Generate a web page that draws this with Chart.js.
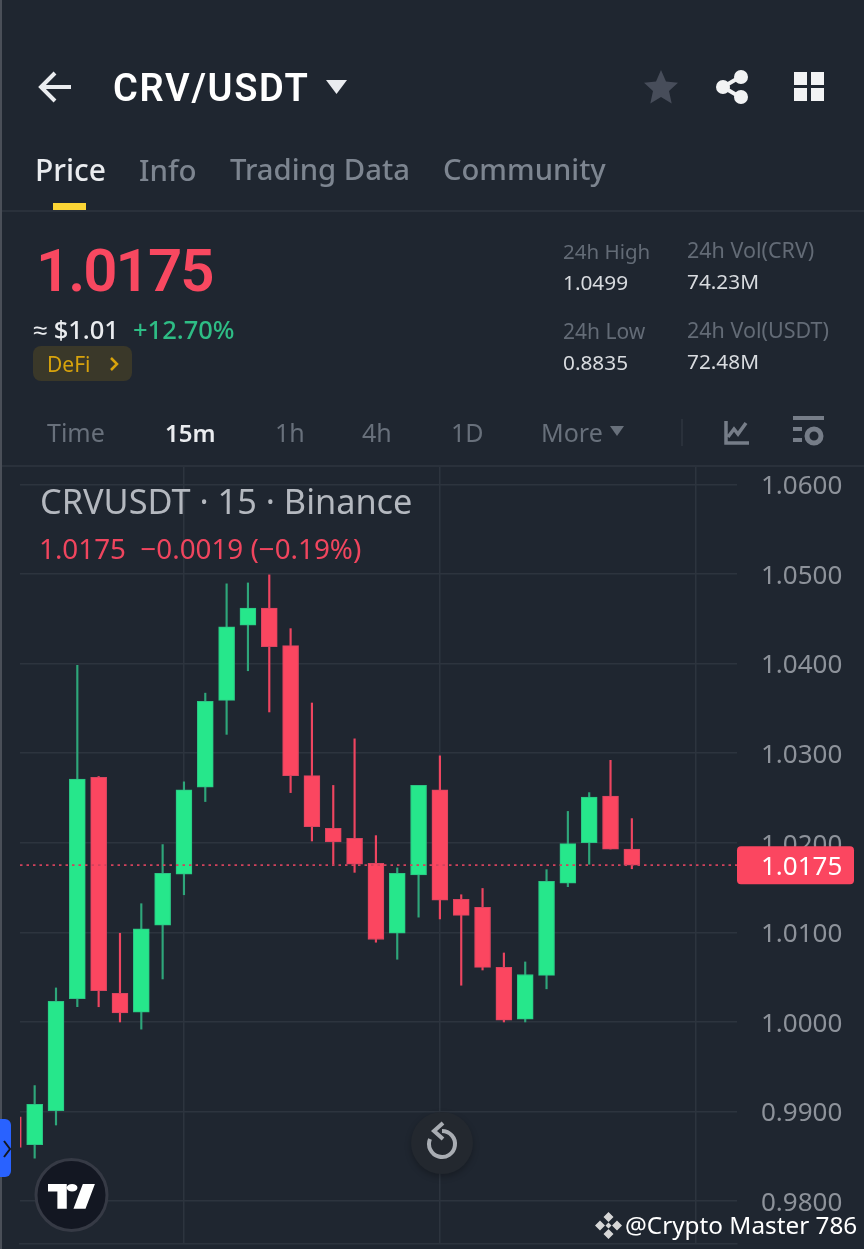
<!DOCTYPE html>
<html>
<head>
<meta charset="utf-8">
<title>CRV/USDT</title>
<script src="https://cdn.jsdelivr.net/npm/chart.js@4/dist/chart.umd.min.js"></script>
<style>
html,body{margin:0;padding:0;background:#1f2630;width:864px;height:1249px;overflow:hidden;font-family:"Noto Sans",sans-serif}
#chart{position:absolute;left:0;top:0}
.t{position:absolute;white-space:nowrap;transform:translateY(-50%);line-height:1}
.dim{color:#7d8590}
.lab{color:#636b76;font-size:21.500px}
.val{color:#d8dbdf;font-size:20.800px}
.ln{position:absolute;background:#2a313b}
svg{position:absolute;overflow:visible}
</style>
</head>
<body>
<canvas id="chart" width="864" height="1249"></canvas>

<!-- header -->
<svg style="left:38px;top:70px" width="36" height="34" fill="none" stroke="#eaecef" stroke-width="4"><path d="M33 17H3M17 3L3 17l14 14"/></svg>
<div class="t" style="left:113px;top:88px;font:600 38px Roboto;color:#fff;letter-spacing:1.700px">CRV/USDT</div>
<svg style="left:326px;top:80px" width="22" height="15"><path d="M0 0H21L10.500 14z" fill="#eaecef"/></svg>
<svg style="left:644px;top:70px" width="34" height="34"><path d="M17 0l5 11.500 12 1.200-9 8.300 2.700 12.500L17 27l-10.700 6.500L9 21l-9-8.300 12-1.200z" fill="#474d5a"/></svg>
<svg style="left:716px;top:70px" width="32" height="34" fill="#f2f3f4" stroke="#f2f3f4" stroke-width="4"><path d="M24 7L7 17l17 10" fill="none"/><circle cx="25" cy="7" r="5"/><circle cx="7" cy="17" r="5"/><circle cx="25" cy="27" r="5"/></svg>
<svg style="left:794px;top:72px" width="30" height="29" fill="#f2f3f4"><rect width="13" height="13"/><rect x="17" width="13" height="13"/><rect y="16" width="13" height="13"/><rect x="17" y="16" width="13" height="13"/></svg>

<!-- tabs -->
<div class="t" style="left:35px;top:170px;font-size:30px;font-weight:500;color:#eaecef">Price</div>
<div class="t dim" style="left:139px;top:170px;font-size:29.500px;font-weight:500">Info</div>
<div class="t dim" style="left:230px;top:170px;font-size:29.300px;font-weight:500">Trading Data</div>
<div class="t dim" style="left:443px;top:170px;font-size:29.200px;font-weight:500">Community</div>
<div style="position:absolute;left:53px;top:203px;width:33px;height:7px;background:#fcd535"></div>
<div class="ln" style="left:0;top:210px;width:864px;height:2px"></div>

<!-- price block -->
<div class="t" style="left:36px;top:270px;font:600 60px Roboto;color:#f84860;letter-spacing:-2px">1.0175</div>
<div class="t" style="left:33px;top:330px;font-size:25.500px;font-weight:500;color:#eaecef">≈ $1.01</div>
<div class="t" style="left:133px;top:330px;font-size:25.500px;font-weight:500;color:#2ebd85">+12.70%</div>
<div style="position:absolute;left:33px;top:346px;width:99px;height:35px;background:#3a3829;border-radius:8px"></div>
<div class="t" style="left:47px;top:364px;font-size:21px;color:#d8a30c">DeFi</div>
<svg style="left:108px;top:357px" width="12" height="14" fill="none" stroke="#d8a30c" stroke-width="2.500"><path d="M3 1l6 6-6 6"/></svg>
<div class="t lab" style="left:563px;top:251px;font-size:20.500px">24h High</div>
<div class="t val" style="left:563px;top:282px">1.0499</div>
<div class="t lab" style="left:687px;top:250px">24h Vol(CRV)</div>
<div class="t val" style="left:687px;top:281px">74.23M</div>
<div class="t lab" style="left:563px;top:331px;font-size:21px">24h Low</div>
<div class="t val" style="left:563px;top:362px">0.8835</div>
<div class="t lab" style="left:687px;top:330px">24h Vol(USDT)</div>
<div class="t val" style="left:687px;top:361px">72.48M</div>

<!-- interval row -->
<div class="t" style="left:47px;top:432px;font-size:25px;color:#68707b">Time</div>
<div class="t" style="left:165px;top:433px;font-size:24px;font-weight:600;color:#eaecef">15m</div>
<div class="t" style="left:275px;top:432px;font-size:25px;color:#68707b">1h</div>
<div class="t" style="left:362px;top:432px;font-size:25px;color:#68707b">4h</div>
<div class="t" style="left:451px;top:432px;font-size:25px;color:#68707b">1D</div>
<div class="t" style="left:541px;top:432px;font-size:25px;color:#68707b">More</div>
<svg style="left:610px;top:426px" width="14" height="10"><path d="M0 0H14L7 10z" fill="#68707b"/></svg>
<div class="ln" style="left:681px;top:419px;width:2px;height:27px"></div>
<svg style="left:724px;top:420px" width="25" height="25" fill="none" stroke="#767d88" stroke-width="3.500"><path d="M2 1V23H25M4 17l6-8 4 5 8-11"/></svg>
<svg style="left:793px;top:416px" width="32" height="32" fill="#767d88"><rect width="31" height="4"/><rect y="11" width="9" height="4"/><rect y="22" width="9" height="4"/><circle cx="21" cy="20" r="7" fill="none" stroke="#767d88" stroke-width="5"/></svg>
<div class="ln" style="left:0;top:465px;width:864px;height:2px"></div>

<!-- legend -->
<div class="t" style="left:40px;top:501px;font-size:34.300px;color:#b4b8bf">CRVUSDT · 15 · Binance</div>
<div class="t" style="left:39px;top:549px;font-size:27.800px;color:#f0455e">1.0175&nbsp; −0.0019 (−0.19%)</div>

<!-- overlays -->
<div style="position:absolute;left:0;top:0;width:2px;height:1249px;background:#4a4f58"></div>
<div style="position:absolute;left:0;top:1119px;width:11px;height:58px;background:#2962ff;border-radius:0 6px 6px 0"></div>
<svg style="left:3px;top:1140px" width="10" height="18" fill="none" stroke="#131722" stroke-width="2"><path d="M1 1l6 8-6 8"/></svg>
<svg style="left:34px;top:1158px" width="76" height="74"><circle cx="37.500" cy="37" r="35.500" fill="#131722" stroke="#363a45" stroke-width="3"/><g transform="translate(14,26) scale(1.34 .95)" fill="#fff"><path d="M14 0H0v8h7v18h7zM28 26h-9l7-26h9zM18 8a4 4 0 1 0 0-8 4 4 0 0 0 0 8z"/></g></svg>
<div style="position:absolute;left:411px;top:1112px;width:62px;height:62px;border-radius:50%;background:#23282f;box-shadow:0 3px 6px rgba(0,0,0,.25)"></div>
<svg style="left:426px;top:1122px" width="32" height="38" fill="none" stroke="#a9adb3" stroke-width="4"><path d="M16 9A13 13 0 1 1 4 17"/><path d="M17 1L8 9l9 8"/></svg>
<svg style="left:595px;top:1212px" width="27" height="27" fill="#d6d6d6"><path d="M13.500 0l5 5-5 5-5-5zM5 8.500l5 5-5 5-5-5zM22 8.500l5 5-5 5-5-5zM13.500 10.500l3 3-3 3-3-3zM13.500 17l5 5-5 5-5-5z"/></svg>
<div class="t" style="left:625px;top:1225px;font-size:24.300px;color:#fff">@Crypto Master 786</div>

<script>
// one entry per 15m candle, oldest first
const opens = [0.9894,0.9863,0.9901,1.0026,1.0273,1.0032,1.0011,1.0108,1.0165,1.0262,1.0359,1.0443,1.0462,1.0420,1.0275,1.0216,1.0205,1.0177,1.0099,1.0164,1.0259,1.0137,1.0128,1.0061,1.0003,1.0052,1.0155,1.0200,1.0252,1.0193];
const highs = [0.9894,0.9929,1.0038,1.0398,1.0274,1.0099,1.0132,1.0198,1.0268,1.0367,1.0489,1.0490,1.0499,1.0439,1.0356,1.0264,1.0316,1.0208,1.0172,1.0264,1.0297,1.0142,1.0149,1.0077,1.0067,1.0170,1.0235,1.0256,1.0292,1.0227];
const lows = [0.9860,0.9848,0.9885,1.0017,1.0017,1.0000,0.9992,1.0048,1.0142,1.0246,1.0321,1.0392,1.0346,1.0256,1.0202,1.0176,1.0167,1.0089,1.0070,1.0117,1.0115,1.0041,1.0058,1.0000,1.0000,1.0037,1.0151,1.0176,1.0193,1.0171];
const closes = [0.9860,0.9908,1.0023,1.0271,1.0035,1.0010,1.0104,1.0166,1.0259,1.0358,1.0441,1.0462,1.0419,1.0275,1.0218,1.0201,1.0176,1.0092,1.0166,1.0264,1.0136,1.0119,1.0061,1.0002,1.0053,1.0157,1.0199,1.0251,1.0193,1.0175];
const candleNumbers = opens.map((o, i) => i + 4);
const yTicks = [0.98,0.99,1.00,1.01,1.02,1.03,1.04,1.05,1.06];
const xTicks = [12,24,36];
const lastPrice = 1.0175;

const GREEN = '#26e78b', RED = '#fb4660';
const isUp = i => closes[i] >= opens[i];

const priceTag = {
    id: 'priceTag',
    afterDraw(chart) {
        const ctx = chart.ctx;
        const y = chart.scales.y.getPixelForValue(lastPrice);
        ctx.save();
        ctx.fillStyle = '#fb4660';
        ctx.beginPath();
        ctx.roundRect(737, y - 19, 117, 38, 4);
        ctx.fill();
        ctx.fillStyle = '#fff';
        ctx.font = '26px "Noto Sans"';
        ctx.textBaseline = 'middle';
        ctx.fillText(lastPrice.toFixed(4), 761, y + 2);
        ctx.restore();
    }
};

new Chart(document.getElementById('chart'), {
    type: 'bar',
    data: {
        datasets: [
            {
                // price line
                type: 'line',
                data: [{x: 4.3125, y: lastPrice}, {x: 37.93, y: lastPrice}],
                borderColor: '#d2425c',
                borderWidth: 1.75,
                borderDash: [2.5, 4],
                pointRadius: 0,
                order: 1
            },
            {
                // bodies
                data: candleNumbers.map((x, i) => ({x, y: [opens[i], closes[i]]})),
                backgroundColor: candleNumbers.map((x, i) => isUp(i) ? GREEN : RED),
                borderColor: candleNumbers.map((x, i) => isUp(i) ? '#2cc585' : '#d94560'),
                borderWidth: 1,
                borderSkipped: false,
                barThickness: 16,
                grouped: false,
                clip: 0,
                order: 2
            },
            {
                // wicks
                data: candleNumbers.map((x, i) => ({x, y: [lows[i], highs[i]]})),
                backgroundColor: candleNumbers.map((x, i) => isUp(i) ? '#2ea67a' : '#ee4560'),
                barThickness: 1.5,
                grouped: false,
                clip: 0,
                order: 3
            }
        ]
    },
    options: {
        responsive: false,
        animation: false,
        layout: {padding: {left: 20, top: 467, bottom: 5}},
        plugins: {legend: {display: false}, tooltip: {enabled: false}},
        scales: {
            x: {
                type: 'linear',
                offset: false,
                min: 4.3125,
                max: 37.93,
                afterBuildTicks: s => { s.ticks = xTicks.map(value => ({value})); },
                afterFit: s => { s.height = 0; s.paddingLeft = 0; s.paddingRight = 0; },
                ticks: {display: false},
                border: {display: true, color: '#2d343e', width: 1.5},
                grid: {color: '#2d343e', lineWidth: 1.5, drawTicks: false, offset: false}
            },
            y: {
                position: 'right',
                min: 0.97522,
                max: 1.06194,
                afterBuildTicks: s => { s.ticks = yTicks.map(value => ({value})); },
                afterFit: s => { s.width = 127; s.paddingTop = 0; s.paddingBottom = 0; },
                ticks: {
                    callback: v => v.toFixed(4),
                    color: '#8d929a',
                    font: {family: '"Noto Sans"', size: 26},
                    padding: 24,
                    labelOffset: 2.5
                },
                border: {display: false},
                grid: {color: '#2d343e', lineWidth: 1.5, drawTicks: false}
            }
        }
    },
    plugins: [priceTag]
});
</script>
</body>
</html>
